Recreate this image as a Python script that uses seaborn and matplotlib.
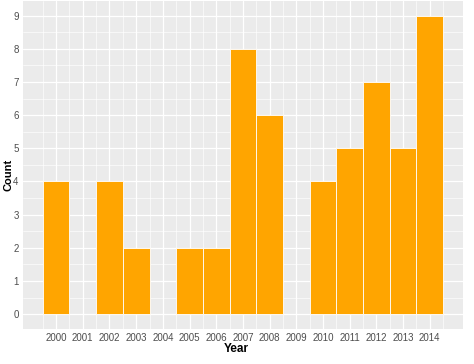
import numpy as np
import pandas as pd
import matplotlib
matplotlib.use("Agg")
import matplotlib.pyplot as plt
import seaborn as sns

# data
years = [2000, 2001, 2002, 2003, 2004, 2005, 2006, 2007,
         2008, 2009, 2010, 2011, 2012, 2013, 2014]
counts = [4, 0, 4, 2, 0, 2, 2, 8, 6, 0, 4, 5, 7, 5, 9]

df = pd.DataFrame({"Year": years, "Count": counts})

sns.set_theme(style="darkgrid", rc={
    "axes.facecolor": "#EBEBEB",
    "grid.color": "white",
})
plt.rcParams["font.family"] = ["Liberation Sans", "DejaVu Sans"]

fig, ax = plt.subplots(figsize=(4.74, 3.64), dpi=100)
fig.subplots_adjust(left=0.048, right=0.977, top=0.998, bottom=0.096)

sns.histplot(data=df, x="Year", weights="Count", discrete=True,
             color="#FFA500", alpha=1, edgecolor="white", linewidth=0.6, ax=ax)

ax.set_xlim(1998.75, 2015.25)
ax.set_ylim(-0.45, 9.45)
ax.set_xticks(years)
ax.set_xticks(np.arange(1999.5, 2015, 1), minor=True)
ax.set_yticks(range(10))
ax.set_yticks(np.arange(0.5, 9.5, 1), minor=True)
ax.grid(which="major", color="white", linewidth=0.9)
ax.grid(which="minor", color="white", linewidth=0.45)
ax.set_axisbelow(True)
for s in ax.spines.values():
    s.set_visible(False)

ax.tick_params(axis="both", which="major", length=2, width=0.7, color="#333333",
               labelsize=7, labelcolor="#4D4D4D", pad=1)
ax.tick_params(axis="both", which="minor", length=0)

ax.set_xlabel("Year", fontsize=8.5, fontweight="bold", color="black")
ax.set_ylabel("Count", fontsize=8, fontweight="bold", color="black")
ax.xaxis.set_label_coords(0.485, -0.042)
ax.yaxis.set_label_coords(-0.022, 0.47)

fig.savefig("out.png", dpi=100)
